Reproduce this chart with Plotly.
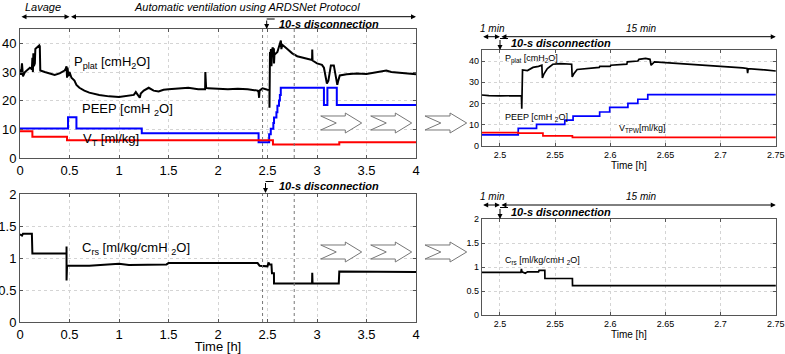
import plotly.graph_objects as go

W, H = 785, 354

# ---------------- data ----------------
# Left panels (0-4 h)
tl_pplat_t = [0.00, 0.01, 0.02, 0.03, 0.05, 0.08, 0.10, 0.12, 0.125, 0.13, 0.135, 0.14, 0.15, 0.155, 0.17, 0.19, 0.195, 0.20, 0.205,
              0.25, 0.30, 0.35, 0.40, 0.45, 0.46, 0.47, 0.475, 0.48, 0.49, 0.50, 0.52, 0.55, 0.57, 0.60, 0.65, 0.70, 0.80, 0.90,
              1.00, 1.10, 1.15, 1.17, 1.19, 1.21, 1.22, 1.25, 1.30, 1.35, 1.40, 1.45, 1.50, 1.60, 1.70, 1.80, 1.87, 1.872, 1.878,
              1.88, 1.90, 2.00, 2.10, 2.20, 2.30, 2.40, 2.41, 2.415, 2.42, 2.45, 2.47, 2.50, 2.52, 2.5201, 2.521, 2.525, 2.53,
              2.535, 2.54, 2.545, 2.55, 2.565, 2.566, 2.57, 2.60, 2.62, 2.635, 2.64, 2.65, 2.70, 2.75, 2.80, 2.85, 2.90, 2.95,
              2.952, 2.955, 3.00, 3.05, 3.07, 3.09, 3.10, 3.115, 3.13, 3.14, 3.17, 3.19, 3.205, 3.215, 3.23, 3.30, 3.40, 3.50,
              3.60, 3.70, 3.75, 3.80, 3.90, 4.00]
tl_pplat = [31, 29, 33, 28.5, 30, 31, 31.5, 31, 35, 30, 36.5, 32, 33, 38, 38.5, 39, 39.3, 39, 30.5,
            30, 29.5, 29, 29.5, 30.5, 31, 32, 28, 31.5, 28.5, 30, 28, 27, 25.5, 24.5, 23.5, 22.8, 22, 21.5,
            21.3, 21.6, 22, 23, 22, 21, 22.5, 23.5, 24.5, 23.5, 23.2, 23.8, 24, 24.3, 24.5, 24, 24, 30, 25,
            24.5, 24.3, 24.2, 24, 24.2, 24, 23.5, 23, 21, 23.5, 24.3, 24, 23.8, 23.7, 17.5, 35, 37, 36,
            38, 32, 36, 38.5, 38, 33, 36, 37, 39, 41, 38, 39.5, 38, 36.5, 35.5, 35, 34.5, 34.2,
            37.8, 34, 33, 32.5, 31.5, 27, 26, 27, 31, 32.3, 32.3, 29, 25.5, 27, 28.8, 29.2, 29.5, 29.3,
            30, 30.5, 30, 29.8, 29.5, 29.2]

tl_peep_t = [0.0, 0.485, 0.57, 1.23, 2.41, 2.5167, 2.533, 2.559, 2.566, 2.59, 2.60, 2.616, 2.625, 2.634, 3.07, 3.105, 3.20, 4.0]
tl_peep = [10.3, 14.2, 10.3, 8.6, 5.5, 8.3, 10.2, 12.2, 14.1, 16.0, 18.2, 20.1, 22.0, 24.5, 18.5, 24.5, 18.5, 18.5]

tl_vt_t = [0.0, 0.125, 0.475, 2.555, 3.225, 4.0]
tl_vt = [9.3, 7.4, 6.2, 4.7, 5.5, 5.5]

bl_crs_t = [0.00, 0.02, 0.03, 0.12, 0.125, 0.47, 0.4701, 0.4702, 0.475, 0.70, 0.90, 1.00, 1.10, 1.48, 1.50, 2.00, 2.40,
            2.42, 2.50, 2.51, 2.52, 2.54, 2.545, 2.565, 2.566, 2.95, 2.952, 2.955, 3.22, 3.225, 4.00]
bl_crs = [1.37, 1.35, 1.38, 1.38, 1.07, 1.07, 1.18, 0.65, 0.88, 0.88, 0.90, 0.91, 0.89, 0.90, 0.92, 0.92, 0.92,
          0.88, 0.87, 0.93, 0.90, 0.90, 0.76, 0.76, 0.60, 0.60, 0.77, 0.60, 0.60, 0.79, 0.78]

# Right panels (zoom 2.4835-2.75 h)
tr_pplat_t = [2.4835, 2.49, 2.50, 2.51, 2.5195, 2.5198, 2.5205, 2.525, 2.53, 2.535, 2.538, 2.5385, 2.54, 2.543, 2.548,
              2.555, 2.565, 2.5655, 2.567, 2.57, 2.58, 2.59, 2.5905, 2.60, 2.6005, 2.61, 2.615, 2.6155, 2.625, 2.626,
              2.632, 2.636, 2.637, 2.64, 2.65, 2.66, 2.68, 2.70, 2.72, 2.724, 2.7245, 2.725, 2.74, 2.75]
tr_pplat = [24, 23.7, 23.6, 23.7, 23.7, 17.5, 35.8, 35.5, 37, 37.5, 38, 32, 34, 36.5, 38.5,
            38.8, 38.5, 32.5, 34, 36, 36.6, 37, 37.5, 37.5, 38, 38.2, 38.5, 39.6, 40, 40.8,
            41.2, 40.8, 38, 39.6, 39.2, 38.8, 38.2, 37.5, 36.8, 36.5, 34.3, 36.4, 35.8, 35.3]

tr_peep_t = [2.4835, 2.5166, 2.5332, 2.5588, 2.5663, 2.5904, 2.5995, 2.616, 2.625, 2.634, 2.75]
tr_peep = [5.2, 8.3, 10.2, 12.2, 14.1, 16.0, 18.2, 20.1, 22.0, 24.2, 24.2]

tr_vt_t = [2.4835, 2.5166, 2.539, 2.5657, 2.75]
tr_vt = [6.3, 6.1, 4.8, 4.1, 4.1]

br_crs_t = [2.4835, 2.519, 2.5195, 2.52, 2.523, 2.525, 2.535, 2.5355, 2.5407, 2.5408, 2.5657, 2.5658, 2.75]
br_crs = [0.89, 0.89, 0.96, 0.90, 0.87, 0.90, 0.90, 0.93, 0.93, 0.76, 0.76, 0.61, 0.61]

left_xticks = [0, 0.5, 1, 1.5, 2, 2.5, 3, 3.5, 4]
left_xtext = ["0", "0.5", "1", "1.5", "2", "2.5", "3", "3.5", "4"]
right_xticks = [2.5, 2.55, 2.6, 2.65, 2.7, 2.75]
right_xtext = ["2.5", "2.55", "2.6", "2.65", "2.7", "2.75"]
pres_yticks = [0, 10, 20, 30, 40]
crs_yticks = [0, 0.5, 1, 1.5, 2]
crs_ytext = ["0", "0.5", "1", "1.5", "2"]
zoom_marks = [2.45, 2.77]

# ---------------- helpers ----------------
def px(x):
    return x / W

def py(y):
    return 1 - y / H

FONT = "Liberation Sans, Arial, sans-serif"
BLACK, BLUE, RED = "#000000", "#0000ff", "#ff0000"

fig = go.Figure()

def add(x, y, xa, ya, color, width, shape="linear"):
    fig.add_trace(go.Scatter(x=x, y=y, xaxis=xa, yaxis=ya, mode="lines",
                             line=dict(color=color, width=width, shape=shape),
                             showlegend=False, hoverinfo="skip", cliponaxis=True))

add(tl_peep_t, tl_peep, "x", "y", BLUE, 2, "hv")
add(tl_vt_t, tl_vt, "x", "y", RED, 2, "hv")
add(tl_pplat_t, tl_pplat, "x", "y", BLACK, 2)
add(tr_peep_t, tr_peep, "x2", "y2", BLUE, 1.7, "hv")
add(tr_vt_t, tr_vt, "x2", "y2", RED, 1.7, "hv")
add(tr_pplat_t, tr_pplat, "x2", "y2", BLACK, 1.7)
add(bl_crs_t, bl_crs, "x3", "y3", BLACK, 2)
add(br_crs_t, br_crs, "x4", "y4", BLACK, 1.7)

axis_common = dict(showline=True, linecolor="#555555", linewidth=1, mirror="ticks",
                   ticks="inside", ticklen=3, tickcolor="#555555",
                   showgrid=True, gridcolor="#d4d4d4", griddash="dot", gridwidth=1,
                   zeroline=False, fixedrange=True, automargin=False)

lf = dict(family=FONT, size=13, color="black")
rf = dict(family=FONT, size=9, color="black")
RMAX = 2.7502

fig.update_layout(
    width=W, height=H, margin=dict(l=0, r=0, t=0, b=0, pad=0), autosize=False,
    paper_bgcolor="white", plot_bgcolor="white", showlegend=False,
    font=dict(family=FONT, color="black"),
    xaxis=dict(axis_common, domain=[px(20), px(416)], range=[0, 4], tickvals=left_xticks, ticktext=left_xtext,
               tickfont=lf, anchor="y"),
    yaxis=dict(axis_common, domain=[py(158), py(29)], range=[0, 45], tickvals=pres_yticks, tickfont=lf, anchor="x"),
    xaxis2=dict(axis_common, domain=[px(481.7), px(776)], range=[2.4835, RMAX], tickvals=right_xticks,
                ticktext=right_xtext, tickfont=rf, anchor="y2",
                title=dict(text="Time [h]", font=dict(family=FONT, size=10), standoff=2)),
    yaxis2=dict(axis_common, domain=[py(146), py(50.4)], range=[0, 45], tickvals=pres_yticks, tickfont=rf, anchor="x2"),
    xaxis3=dict(axis_common, domain=[px(20), px(416)], range=[0, 4], tickvals=left_xticks, ticktext=left_xtext,
                tickfont=lf, anchor="y3",
                title=dict(text="Time [h]", font=dict(family=FONT, size=13), standoff=3)),
    yaxis3=dict(axis_common, domain=[py(322), py(194)], range=[0, 2], tickvals=crs_yticks, ticktext=crs_ytext,
                tickfont=lf, anchor="x3"),
    xaxis4=dict(axis_common, domain=[px(481.7), px(776)], range=[2.4835, RMAX], tickvals=right_xticks,
                ticktext=right_xtext, tickfont=rf, anchor="y4",
                title=dict(text="Time [h]", font=dict(family=FONT, size=10), standoff=2)),
    yaxis4=dict(axis_common, domain=[py(315), py(219)], range=[0, 2], tickvals=crs_yticks, ticktext=crs_ytext,
                tickfont=rf, anchor="x4"),
)

shapes = []
# zoom-window dashed marks on the left panels
for xa, ya in (("x", "y"), ("x3", "y3")):
    for xm in zoom_marks:
        shapes.append(dict(type="line", xref=xa, yref=ya + " domain", x0=xm, x1=xm, y0=0, y1=1,
                           line=dict(color="#777777", width=1, dash="dot")))

# hollow block arrows
def block_arrow(x0, x1, yc, h=20):
    w = x1 - x0
    hh, bb = h / 2, 7
    pts = [(x0, yc - bb), (x0 + 0.6 * w, yc - bb), (x0 + 0.6 * w, yc - hh), (x1, yc),
           (x0 + 0.6 * w, yc + hh), (x0 + 0.6 * w, yc + bb), (x0, yc + bb), (x0 + 0.38 * w, yc)]
    d = "M " + " L ".join(f"{px(a):.5f},{py(b):.5f}" for a, b in pts) + " Z"
    return dict(type="path", xref="paper", yref="paper", path=d,
                line=dict(color="#777777", width=1), fillcolor="white")

for yc in (123, 252):
    for x0, x1 in ((320.7, 361.7), (370.7, 411.7), (425, 466.7)):
        shapes.append(block_arrow(x0, x1, yc))

# small bracket lines for the disconnection markers
for xp, yp in ((266.7, 19), (265.5, 181.5), (500, 38.5), (500, 207.5)):
    shapes.append(dict(type="line", xref="paper", yref="paper", x0=px(xp), x1=px(xp + 8), y0=py(yp), y1=py(yp),
                       line=dict(color="black", width=1)))

fig.update_layout(shapes=shapes)

ann = []
def text(x, y, s, size, xanchor="left", italic=False, bold=False):
    if italic:
        s = f"<i>{s}</i>"
    if bold:
        s = f"<b>{s}</b>"
    ann.append(dict(xref="paper", yref="paper", x=px(x), y=py(y), text=s, showarrow=False,
                    xanchor=xanchor, yanchor="middle", font=dict(family=FONT, size=size, color="black")))

def span(xa, xs, xe, y):
    ann.append(dict(xref=xa, yref="paper", x=xe, y=py(y), axref=xa, ayref="pixel", ax=xs, ay=0,
                    text="", showarrow=True, arrowside="end+start", arrowhead=2, startarrowhead=2,
                    arrowsize=1, startarrowsize=1, arrowwidth=1, arrowcolor="black", standoff=0, startstandoff=0))

def down(xp, y0, y1):
    ann.append(dict(xref="paper", yref="paper", x=px(xp), y=py(y1), ax=0, ay=-(y1 - y0),
                    text="", showarrow=True, arrowhead=2, arrowsize=1, arrowwidth=1, arrowcolor="black"))

# top-left headers
text(42.5, 7, "Lavage", 11, "center", italic=True)
text(247, 7, "Automatic ventilation using ARDSNet Protocol", 11, "center", italic=True)
span("x", 0, 0.5, 16.7)
span("x", 0.5, 4, 16.7)
text(277, 24, "10-s disconnection", 11, bold=True, italic=True)
down(266.7, 19, 29)
text(277, 186, "10-s disconnection", 11, bold=True, italic=True)
down(265.5, 181.5, 193)

# right headers
for ya, yt, yd in ((28, 36.7, 43.3), (196.7, 205, 212.3)):
    text(492, ya, "1 min", 10, "center", italic=True)
    text(641, ya, "15 min", 10, "center", italic=True)
    span("x2", 2.4835, 2.5, yt)
    span("x2", 2.5, 2.75, yt)
    text(509, yd, "10-s disconnection", 11, bold=True, italic=True)
down(500, 38.5, 50)
down(500, 207.5, 219)

# series labels
text(72, 62, "P<sub>plat</sub> [cmH<sub>2</sub>O]", 13)
text(80, 109, "PEEP [cmH <sub>2</sub>O]", 13)
text(81, 139, "V<sub>T</sub> [ml/kg]", 13)
text(80, 248, "C<sub>rs</sub> [ml/kg/cmH <sub>2</sub>O]", 13)
text(503, 59, "P<sub>plat</sub> [cmH<sub>2</sub>O]", 9)
text(503, 117, "PEEP [cmH <sub>2</sub>O]", 9)
text(617, 128, "V<sub>TPW</sub>[ml/kg]", 9)
text(503, 260, "C<sub>rs</sub> [ml/kg/cmH <sub>2</sub>O]", 9)

fig.update_layout(annotations=ann)
fig.write_html("out.html", config={"displayModeBar": False},
               post_script="document.body.style.margin='0px';document.body.style.padding='0px';"
                           "document.body.style.overflow='hidden';")
